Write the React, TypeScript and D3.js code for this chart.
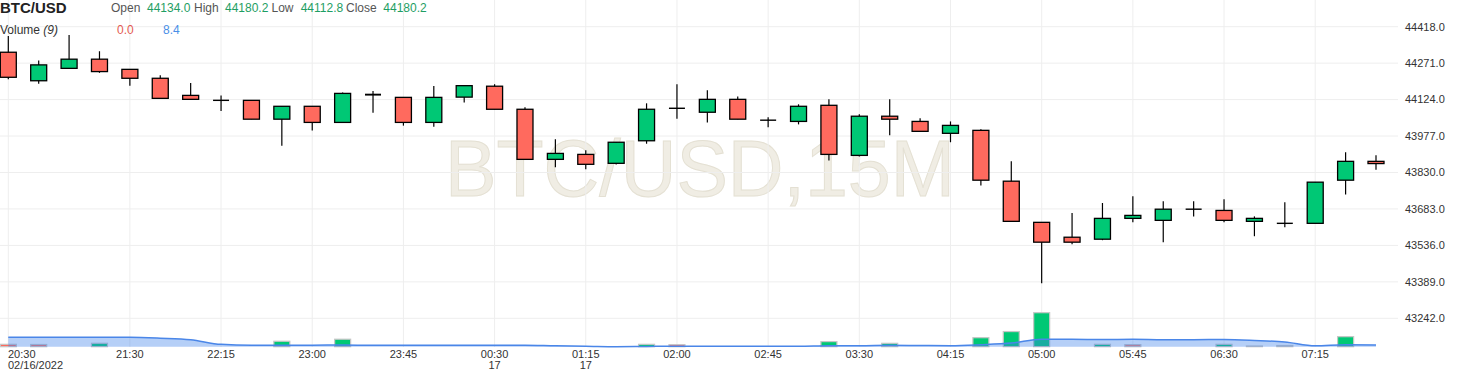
import React from "react";
import * as d3 from "d3";

const times = [
  "20:30","20:45","21:00","21:15","21:30","21:45","22:00","22:15","22:30","22:45",
  "23:00","23:15","23:30","23:45","00:00","00:15","00:30","00:45","01:00","01:15",
  "01:30","01:45","02:00","02:15","02:30","02:45","03:00","03:15","03:30","03:45",
  "04:00","04:15","04:30","04:45","05:00","05:15","05:30","05:45","06:00","06:15",
  "06:30","06:45","07:00","07:15","07:30","07:45",
];
const opens = [
  44315,44200,44250,44287,44246,44210,44141,44121,44121,44045,
  44097,44032,44145,44133,44032,44134.0,44178,44085,43883,43903,
  43867,43958,44089,44073,44125,44041,44036,44101,43899,44057,
  44036,43988,44000,43795,43629,43569,43561,43645,43637,43682,
  43677,43633,43625,43625,43799,43875,
];
const highs = [
  44380,44282,44385,44319,44246,44222,44191,44141,44121,44097,
  44097,44153,44159,44133,44179,44180.2,44186,44093,43964,43920,
  43952,44109,44186,44162,44137,44053,44105,44125,44065,44125,
  44049,44036,44004,43875,43629,43667,43707,43734,43714,43714,
  43722,43653,43710,43791,43912,43900,
];
const lows = [
  44206,44188,44250,44232,44180,44129,44125,44078,44045,43938,
  43999,44032,44071,44019,44015,44112.8,44085,43883,43851,43843,
  43862,43946,44047,44032,44045,44012,44024,43878,43895,43980,
  43996,43952,43778,43633,43383,43541,43557,43629,43549,43653,
  43629,43573,43609,43625,43741,43841,
];
const closes = [
  44214,44264,44287,44237,44210,44129,44125,44121,44045,44097,
  44032,44149,44143,44032,44133,44180.2,44085,43883,43907,43863,
  43952,44085,44089,44125,44045,44041,44097,43903,44057,44045,
  43996,44020,43799,43633,43549,43549,43645,43657,43682,43682,
  43637,43645,43625,43791,43875,43866,
];
const volumes = [
  14,13,0,20,0,0,0,0,0,32,
  0,44,0,0,0,0,0,0,0,0,
  0,14,12,0,0,0,0,30,0,20,
  0,0,53,89,200,0,14,12,0,0,
  14,4,7,0,59,0,
];
const volumeMA = [
  55,55,55,55,55,50,41,14,9,9,
  9,10,8.4,8.4,8.4,8.4,8.4,8.4,5,3,
  0,1.6,2.9,2.9,2.9,2.9,2.9,6.2,6.2,8.4,
  6.9,5.6,11.4,21.3,43.6,43.6,41.8,43.1,40.9,40.9,
  42.4,37,27.9,5.7,12.2,10.7,
];
const priceTicks = [43242,43389,43536,43683,43830,43977,44124,44271,44418];
const timeTicks = ["20:30","21:30","22:15","23:00","23:45","00:30","01:15","02:00","02:45","03:30","04:15","05:00","05:45","06:30","07:15"];
const subLabels: Record<string, string> = { "20:30": "02/16/2022", "00:30": "17", "01:15": "17" };

const W = 1469;
const H = 374;
const GREEN = "#00c875";
const RED = "#ff6a5e";
const FONT = "'Liberation Sans', Arial, sans-serif";

export default function App() {
  const x = d3.scalePoint<string>().domain(times).range([8.3, 1376]);
  const y = d3.scaleLinear().domain([43242, 44418]).range([318.3, 26.7]);
  const yv = d3.scaleLinear().domain([0, 200]).range([346.7, 312.7]);
  const bodyW = 16;

  const area = d3
    .area<number>()
    .x((_, i) => x(times[i]) as number)
    .y0(yv(0))
    .y1((d) => yv(d))
    .curve(d3.curveMonotoneX);
  const line = d3
    .line<number>()
    .x((_, i) => x(times[i]) as number)
    .y((d) => yv(d))
    .curve(d3.curveMonotoneX);

  return (
    <div style={{ position: "absolute", left: 0, top: 0, width: W, height: H, background: "#fff" }}>
      <svg width={W} height={H} style={{ display: "block", fontFamily: FONT }}>
        <rect width={W} height={H} fill="#fff" />
        {/* watermark */}
        <text
          x={445}
          y={196}
          fontSize={80}
          textLength={510}
          lengthAdjust="spacingAndGlyphs"
          fill="#f0ede4"
          stroke="#e4e0d3"
          strokeWidth={1}
        >
          BTC/USD,15M
        </text>
        {/* grid */}
        {priceTicks.map((p) => (
          <line key={"h" + p} x1={0} x2={1398} y1={y(p)} y2={y(p)} stroke="#eeeeee" strokeWidth={1} />
        ))}
        {timeTicks.map((t) => (
          <line key={"v" + t} x1={x(t)} x2={x(t)} y1={0} y2={347} stroke="#eeeeee" strokeWidth={1} />
        ))}
        {/* volume bars */}
        {volumes.map((v, i) => {
          if (v <= 0) return null;
          const prev = i > 0 ? volumes[i - 1] : Infinity;
          const col = v > prev ? GREEN : RED;
          const cx = x(times[i]) as number;
          return (
            <rect
              key={"vb" + i}
              x={cx - bodyW / 2}
              y={yv(v)}
              width={bodyW}
              height={yv(0) - yv(v)}
              fill={col}
              stroke="#c6c6c6"
              strokeWidth={1.2}
            />
          );
        })}
        {/* volume MA */}
        <path d={area(volumeMA) || ""} fill="rgba(60,130,235,0.38)" />
        <path d={line(volumeMA) || ""} fill="none" stroke="#4a86e8" strokeWidth={1.5} />
        {/* candles */}
        {times.map((t, i) => {
          const cx = (x(t) as number);
          const o = opens[i];
          const c = closes[i];
          const top = y(Math.max(o, c));
          const bot = y(Math.min(o, c));
          const doji = bot - top < 0.8;
          const col = c >= o ? GREEN : RED;
          return (
            <g key={"c" + i}>
              <line x1={cx} x2={cx} y1={y(highs[i])} y2={y(lows[i])} stroke="#000" strokeWidth={1.2} />
              {doji ? (
                <line x1={cx - 8} x2={cx + 8} y1={(top + bot) / 2} y2={(top + bot) / 2} stroke="#000" strokeWidth={1.4 + (bot - top)} />
              ) : (
                <rect x={cx - bodyW / 2} y={top} width={bodyW} height={bot - top} fill={col} stroke="#000" strokeWidth={1.3} />
              )}
            </g>
          );
        })}
        {/* y axis labels */}
        {priceTicks.map((p) => (
          <text key={"yl" + p} x={1405} y={y(p) + 3.8} fontSize={11} fill="#333">
            {p.toFixed(1)}
          </text>
        ))}
        {/* x axis labels */}
        {timeTicks.map((t, i) => (
          <g key={"xl" + t}>
            <text x={i === 0 ? 8 : (x(t) as number)} y={358} fontSize={11} fill="#333" textAnchor={i === 0 ? "start" : "middle"}>
              {t}
            </text>
            {subLabels[t] && (
              <text x={i === 0 ? 8 : (x(t) as number)} y={368.5} fontSize={11} fill="#333" textAnchor={i === 0 ? "start" : "middle"}>
                {subLabels[t]}
              </text>
            )}
          </g>
        ))}
        {/* header */}
        <text x={0} y={13} fontSize={15} fontWeight="bold" fill="#222">BTC/USD</text>
        <text x={111} y={12} fontSize={12} fill="#555">Open</text>
        <text x={147} y={12} fontSize={12} fill="#1e9e63">{opens[15].toFixed(1)}</text>
        <text x={194} y={12} fontSize={12} fill="#555">High</text>
        <text x={225} y={12} fontSize={12} fill="#1e9e63">{highs[15].toFixed(1)}</text>
        <text x={271.5} y={12} fontSize={12} fill="#555">Low</text>
        <text x={300.7} y={12} fontSize={12} fill="#1e9e63">{lows[15].toFixed(1)}</text>
        <text x={346} y={12} fontSize={12} fill="#555">Close</text>
        <text x={383.3} y={12} fontSize={12} fill="#1e9e63">{closes[15].toFixed(1)}</text>
        <text x={0} y={34} fontSize={12} fill="#333">
          Volume <tspan fontStyle="italic">(9)</tspan>
        </text>
        <text x={117} y={34} fontSize={12} fill="#e45a50">{volumes[15].toFixed(1)}</text>
        <text x={163} y={34} fontSize={12} fill="#4a8fe7">{volumeMA[15].toFixed(1)}</text>
      </svg>
    </div>
  );
}
